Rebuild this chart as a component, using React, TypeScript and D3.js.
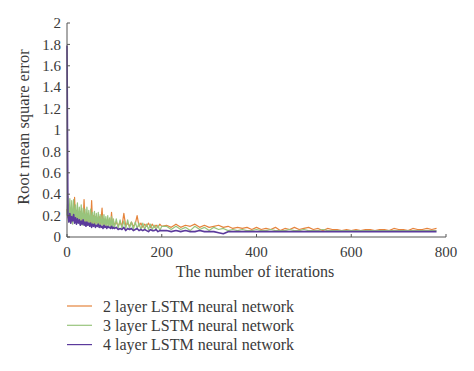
import React from "react";
import * as d3 from "d3";

// sample grid: dense at the start, sparser later
const ITER_EARLY = d3.range(0, 101, 2);
const ITER_MID = d3.range(104, 201, 4);
const ITER_LATE = d3.range(210, 781, 10);

const L2_EARLY = [0.26,0.18,0.30,0.16,0.27,0.15,0.24,0.17,0.37,0.16,
  0.25,0.15,0.22,0.14,0.24,0.15,0.21,0.14,0.35,0.14,
  0.21,0.13,0.22,0.14,0.19,0.13,0.34,0.13,0.20,0.12,
  0.19,0.13,0.18,0.12,0.19,0.12,0.17,0.27,0.12,0.17,
  0.11,0.16,0.12,0.17,0.11,0.15,0.11,0.23,0.11,0.15,0.11];
const L2_MID = [0.14,0.10,0.14,0.10,0.22,0.10,0.13,0.10,0.14,0.10,0.12,0.20,0.10,0.13,0.09,0.12,0.10,0.13,0.09,0.12,0.09,0.11,0.09,0.12,0.10];
const L2_LATE = [0.11,0.09,0.12,0.09,0.11,0.10,0.12,0.09,0.11,0.09,
  0.10,0.11,0.09,0.10,0.08,0.09,0.08,0.09,0.07,0.09,
  0.07,0.08,0.07,0.09,0.06,0.08,0.07,0.09,0.07,0.08,
  0.09,0.07,0.08,0.06,0.08,0.07,0.07,0.06,0.07,0.06,
  0.07,0.06,0.07,0.07,0.06,0.07,0.07,0.06,0.08,0.07,
  0.07,0.06,0.08,0.07,0.07,0.08,0.07,0.08];

const L3_EARLY = [0.20,0.38,0.14,0.36,0.13,0.34,0.12,0.35,0.14,0.30,
  0.12,0.32,0.13,0.28,0.12,0.30,0.11,0.27,0.12,0.26,
  0.11,0.28,0.11,0.25,0.10,0.26,0.11,0.23,0.10,0.24,
  0.10,0.22,0.10,0.23,0.09,0.21,0.10,0.20,0.09,0.21,
  0.09,0.19,0.09,0.20,0.09,0.18,0.08,0.19,0.09,0.17,0.08];
const L3_MID = [0.17,0.08,0.16,0.08,0.15,0.08,0.16,0.08,0.14,0.07,0.14,0.08,0.13,0.07,0.13,0.07,0.12,0.07,0.12,0.07,0.11,0.07,0.11,0.06,0.10];
const L3_LATE = [0.10,0.07,0.10,0.07,0.09,0.06,0.10,0.07,0.09,0.06,
  0.09,0.07,0.08,0.06,0.07,0.06,0.07,0.06,0.06,0.07,
  0.06,0.06,0.07,0.06,0.06,0.06,0.07,0.06,0.06,0.07,
  0.06,0.06,0.06,0.07,0.06,0.06,0.06,0.06,0.06,0.06,
  0.06,0.06,0.06,0.06,0.06,0.06,0.06,0.06,0.06,0.06,
  0.06,0.06,0.06,0.06,0.06,0.06,0.06,0.06];

const L4_EARLY = [1.79,0.20,0.14,0.22,0.13,0.19,0.15,0.21,0.13,0.18,
  0.12,0.17,0.13,0.16,0.11,0.15,0.12,0.16,0.11,0.14,
  0.10,0.14,0.11,0.13,0.10,0.13,0.09,0.12,0.10,0.12,
  0.09,0.11,0.10,0.12,0.09,0.11,0.09,0.10,0.08,0.11,
  0.09,0.10,0.08,0.10,0.09,0.09,0.08,0.10,0.08,0.09,0.08];
const L4_MID = [0.09,0.07,0.08,0.07,0.09,0.06,0.08,0.07,0.08,0.06,0.07,0.08,0.06,0.07,0.06,0.07,0.06,0.05,0.07,0.06,0.06,0.07,0.05,0.06,0.06];
const L4_LATE = [0.06,0.05,0.06,0.05,0.06,0.05,0.05,0.06,0.05,0.05,
  0.05,0.04,0.03,0.05,0.05,0.05,0.05,0.05,0.05,0.05,
  0.05,0.05,0.05,0.05,0.05,0.05,0.05,0.05,0.05,0.05,
  0.05,0.05,0.05,0.05,0.05,0.05,0.05,0.05,0.05,0.05,
  0.05,0.05,0.05,0.05,0.05,0.05,0.05,0.05,0.05,0.05,
  0.05,0.05,0.05,0.05,0.05,0.05,0.05,0.05];

const X_TICKS = [0, 200, 400, 600, 800];
const Y_TICKS = [0, 0.2, 0.4, 0.6, 0.8, 1, 1.2, 1.4, 1.6, 1.8, 2];

const SERIES = [
  { name: "2 layer LSTM neural network", color: "#e5843c", width: 1.2, early: L2_EARLY, mid: L2_MID, late: L2_LATE },
  { name: "3 layer LSTM neural network", color: "#98c47c", width: 1.2, early: L3_EARLY, mid: L3_MID, late: L3_LATE },
  { name: "4 layer LSTM neural network", color: "#5b3a9c", width: 1.6, early: L4_EARLY, mid: L4_MID, late: L4_LATE },
];

const FONT = "'Liberation Serif', 'DejaVu Serif', serif";
const TEXT = "#3a3a3a";

export default function App() {
  const x = d3.scaleLinear().domain([0, 800]).range([67, 446]);
  const y = d3.scaleLinear().domain([0, 2]).range([237, 23]);

  const line = d3.line<[number, number]>()
    .x(d => x(d[0]))
    .y(d => y(d[1]));

  const points = (s: typeof SERIES[number]) => {
    const pts: [number, number][] = [];
    ITER_EARLY.forEach((it, i) => { if (s.early[i] != null) pts.push([it, s.early[i]]); });
    ITER_MID.forEach((it, i) => { if (s.mid[i] != null) pts.push([it, s.mid[i]]); });
    ITER_LATE.forEach((it, i) => { if (s.late[i] != null) pts.push([it, s.late[i]]); });
    return pts;
  };

  return (
    <svg width={474} height={371} style={{ position: "absolute", left: 0, top: 0, background: "#fff" }}>
      {/* data */}
      {SERIES.map(s => (
        <path key={s.name} d={line(points(s)) || ""} fill="none" stroke={s.color} strokeWidth={s.width} strokeLinejoin="round" />
      ))}

      {/* axes */}
      <line x1={67} x2={67} y1={y(2)} y2={y(0)} stroke="#555" strokeWidth={1} />
      <line x1={67} x2={x(800)} y1={y(0)} y2={y(0)} stroke="#555" strokeWidth={1} />
      {Y_TICKS.map(t => (
        <g key={t}>
          <line x1={67} x2={70} y1={y(t)} y2={y(t)} stroke="#555" />
          <text x={61} y={y(t)} dy="0.35em" textAnchor="end" fontFamily={FONT} fontSize={15} fill={TEXT}>{t}</text>
        </g>
      ))}
      {X_TICKS.map(t => (
        <g key={t}>
          <line x1={x(t)} x2={x(t)} y1={y(0)} y2={y(0) - 3} stroke="#555" />
          <text x={x(t)} y={257} textAnchor="middle" fontFamily={FONT} fontSize={15} fill={TEXT}>{t}</text>
        </g>
      ))}

      <text x={255} y={277} textAnchor="middle" fontFamily={FONT} fontSize={16} fill={TEXT}>The number of iterations</text>
      <text transform={`translate(29,127) rotate(-90)`} textAnchor="middle" fontFamily={FONT} fontSize={16.5} fill={TEXT}>Root mean square error</text>

      {/* legend */}
      {SERIES.map((s, i) => (
        <g key={s.name} transform={`translate(0,${306 + i * 19.3})`}>
          <line x1={67} x2={92} y1={0} y2={0} stroke={s.color} strokeWidth={1.2} />
          <text x={103} y={0} dy="0.35em" fontFamily={FONT} fontSize={16} fill={TEXT}>{s.name}</text>
        </g>
      ))}
    </svg>
  );
}
